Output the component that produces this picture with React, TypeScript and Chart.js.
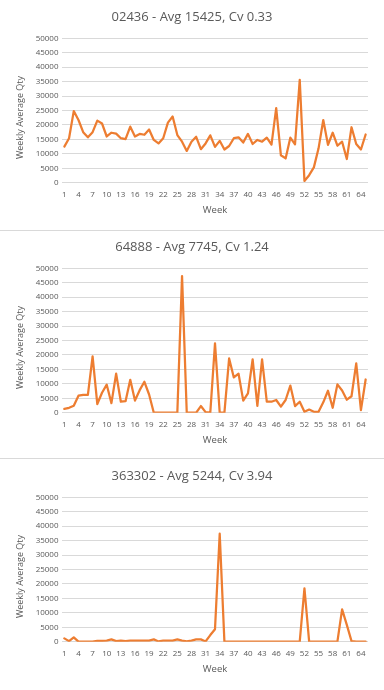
import React, { useEffect, useRef } from "react";
import { Chart, registerables } from "chart.js";

Chart.register(...registerables);

const FONT = "'Open Sans', 'Noto Sans', sans-serif";
const TEXT = "#595959";
const GRID = "#d9d9d9";
const LINE = "#ED7D31";

const weeks: string[] = Array.from({ length: 65 }, (_, i) => String(i + 1));

const titles = [
  "02436 - Avg 15425, Cv 0.33",
  "64888 - Avg 7745, Cv 1.24",
  "363302 - Avg 5244, Cv 3.94",
];

const series02436 = [
  12500, 15400, 24800, 21700, 17500, 15700, 17500, 21500, 20500, 16000,
  17300, 17000, 15400, 15100, 19400, 16000, 16900, 16600, 18400, 14800,
  13600, 15400, 20800, 22900, 16500, 14200, 11000, 14200, 15900, 11600,
  13600, 16400, 12400, 14500, 11500, 12700, 15400, 15700, 13900, 16900,
  13400, 14800, 14200, 15600, 13200, 25800, 9500, 8400, 15600, 13300,
  35600, 600, 2600, 5300, 11900, 21700, 13100, 17300, 12800, 14200,
  8200, 19200, 13400, 11500, 16700,
];

const series64888 = [
  1300, 1700, 2400, 5900, 6200, 6200, 19500, 3000, 6900, 9700,
  3300, 13500, 3800, 4000, 11400, 4200, 7800, 10700, 6300, 0,
  0, 0, 0, 0, 0, 47300, 0, 0, 0, 2300,
  200, 0, 24000, 0, 0, 18800, 12200, 13500, 4200, 6700,
  18500, 2400, 18500, 3800, 3800, 4400, 2100, 4400, 9400, 2300,
  3800, 300, 1100, 300, 300, 3600, 7600, 1700, 9800, 7700,
  4500, 5700, 17100, 900, 11500,
];

const series363302 = [
  1150, 200, 1500, 0, 0, 0, 0, 300, 300, 400,
  800, 200, 400, 200, 400, 400, 400, 400, 400, 800,
  100, 400, 400, 400, 800, 400, 100, 400, 800, 800,
  100, 2300, 4300, 37400, 0, 0, 0, 0, 0, 0,
  0, 0, 0, 0, 0, 0, 0, 0, 0, 0,
  0, 18500, 0, 0, 0, 0, 0, 0, 0, 11200,
  5800, 200, 0, 0, 0,
];

const yTicksMax = 50000;
const yTicksStep = 5000;

function Panel({ title, values, top }: { title: string; values: number[]; top: number }) {
  const ref = useRef<HTMLCanvasElement | null>(null);
  useEffect(() => {
    if (!ref.current) return;
    const chart = new Chart(ref.current, {
      type: "line",
      data: {
        labels: weeks,
        datasets: [
          {
            data: values,
            borderColor: LINE,
            backgroundColor: LINE,
            borderWidth: 2.25,
            pointRadius: 0,
            tension: 0,
            borderJoinStyle: "round",
            borderCapStyle: "round",
            fill: false,
            yAxisID: "y",
          },
        ],
      },
      options: {
        responsive: false,
        animation: false,
        events: [],
        layout: { padding: { left: 0, right: 0, top: 9.9, bottom: 0 } },
        plugins: {
          legend: { display: false },
          tooltip: { enabled: false },
          title: {
            display: true,
            text: title,
            color: TEXT,
            font: { family: FONT, size: 13, weight: "normal" },
            padding: { top: 0, bottom: 12.8 },
          },
        },
        scales: {
          x: {
            type: "category",
            offset: true,
            grid: { display: false, drawTicks: false },
            border: { display: false },
            ticks: {
              autoSkip: false,
              maxRotation: 0,
              minRotation: 0,
              padding: 7,
              color: TEXT,
              font: { family: FONT, size: 8 },
              callback: (_v: any, i: number) => (i % 3 === 0 ? weeks[i] : ""),
            },
            title: {
              display: true,
              text: "Week",
              color: TEXT,
              font: { family: FONT, size: 9.5 },
              padding: { top: 0, bottom: 13.8 },
            },
            afterFit: (s: any) => {
              s.height = 47.3;
            },
          },
          y: {
            min: 0,
            max: yTicksMax,
            grid: { color: GRID, lineWidth: 1, drawTicks: false },
            border: { display: false },
            ticks: {
              stepSize: yTicksStep,
              padding: 3.5,
              color: TEXT,
              font: { family: FONT, size: 8 },
              callback: (v: any) => String(v),
            },
            title: {
              display: true,
              text: "Weekly Average Qty      ",
              color: TEXT,
              font: { family: FONT, size: 9 },
              padding: { top: 15, bottom: 0 },
            },
            afterFit: (s: any) => {
              s.width = 62;
            },
          },
          yRight: {
            position: "right",
            display: true,
            grid: { display: false, drawTicks: false },
            border: { display: false },
            ticks: { display: false },
            afterFit: (s: any) => {
              s.width = 16;
            },
          },
        },
      },
    } as any);
    return () => chart.destroy();
  }, [title, values]);
  return (
    <canvas
      ref={ref}
      width={384}
      height={230}
      style={{ position: "absolute", left: 0, top, width: 384, height: 230 }}
    />
  );
}

export default function App() {
  useEffect(() => {
    document.body.style.margin = "0";
  }, []);
  return (
    <div style={{ position: "relative", width: 384, height: 690, background: "#fff", overflow: "hidden" }}>
      <Panel title={titles[0]} values={series02436} top={0} />
      <Panel title={titles[1]} values={series64888} top={230} />
      <Panel title={titles[2]} values={series363302} top={459} />
      <div style={{ position: "absolute", left: 0, top: 230, width: 384, height: 1, background: GRID }} />
      <div style={{ position: "absolute", left: 0, top: 458, width: 384, height: 1, background: GRID }} />
    </div>
  );
}
